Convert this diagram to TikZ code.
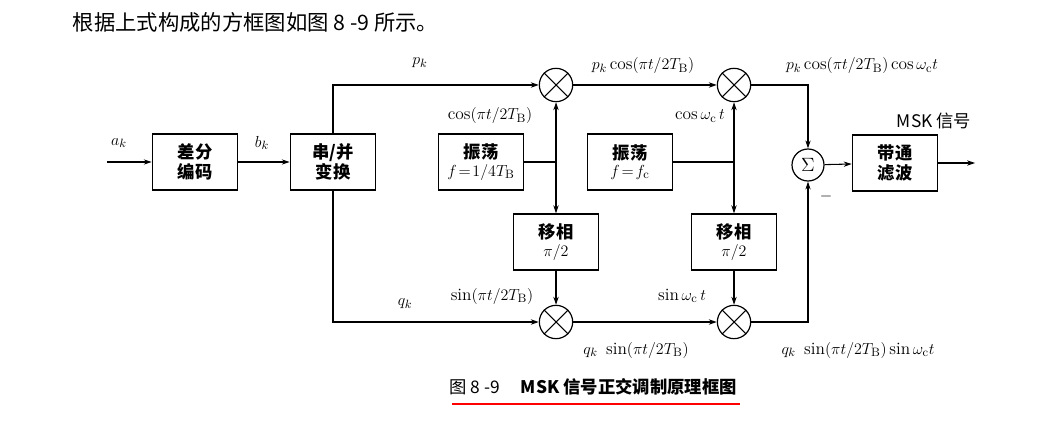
\documentclass[tikz,border=0pt]{standalone}
\usepackage{fontspec}
\newfontfamily\cjk{Noto Sans CJK SC}
\usetikzlibrary{arrows.meta}
\begin{document}
\begin{tikzpicture}[x=0.75pt,y=-0.75pt,
  box/.style={draw,line width=1pt,minimum width=64pt,minimum height=42pt,align=center,font=\cjk\bfseries\fontsize{13}{15}\selectfont,inner sep=1pt},
  mul/.style={draw,circle,line width=0.9pt,minimum size=25pt,inner sep=0pt},
  lab/.style={font=\fontsize{13}{15}\selectfont,inner sep=1pt},
  arr/.style={-{Stealth[length=6pt,width=4pt]},line width=0.8pt},
  ln/.style={line width=0.8pt}]
\useasboundingbox (0,0) rectangle (1062,438);
\node[anchor=west,font=\cjk\fontsize{16}{18}\selectfont] (title) at (68,22) {根据上式构成的方框图如图 8 -9 所示。};
\node[box] (diff) at (195,162) {差分\\编码};
\node[box] (sp) at (333,162) {串/并\\变换};
\node[box] (osc1) at (481,162) {振荡\\[-2pt]{\rmfamily\mdseries\fontsize{13}{15}\selectfont$f\!=\!1/4T_{\rm B}$}};
\node[box] (osc2) at (630,162) {振荡\\[-2pt]{\rmfamily\mdseries\fontsize{13}{15}\selectfont$f\!=\!f_{\rm c}$}};
\node[box] (ph1) at (556,242) {移相\\[-2pt]{\rmfamily\mdseries\fontsize{13}{15}\selectfont$\pi/2$}};
\node[box] (ph2) at (734,242) {移相\\[-2pt]{\rmfamily\mdseries\fontsize{13}{15}\selectfont$\pi/2$}};
\node[box] (bpf) at (895,163) {带通\\滤波};
\node[mul] (m1) at (556,85) {};
\node[mul] (m2) at (734,85) {};
\node[mul] (m3) at (556,322) {};
\node[mul] (m4) at (734,322) {};
\foreach \m in {m1,m2,m3,m4}{
  \draw[ln] (\m.north west)--(\m.south east) (\m.north east)--(\m.south west);}
\node[mul,minimum size=24pt,font=\Large] (sum) at (808,165) {$\Sigma$};
\coordinate (in) at (107,162);
\coordinate (out) at (975,163);
\coordinate (j1) at (556,162);
\coordinate (j2) at (734,162);
\draw[arr] (in) -- (diff);
\draw[arr] (diff) -- (sp);
\draw[arr] (sp.north) |- (m1);
\draw[arr] (sp.south) |- (m3);
\draw[ln] (osc1.east) -- (j1);
\draw[arr] (j1) -- (m1);
\draw[arr] (j1) -- (ph1);
\draw[arr] (ph1) -- (m3);
\draw[ln] (osc2.east) -- (j2);
\draw[arr] (j2) -- (m2);
\draw[arr] (j2) -- (ph2);
\draw[arr] (ph2) -- (m4);
\draw[arr] (m1) -- (m2);
\draw[arr] (m3) -- (m4);
\draw[arr] (m2) -| (sum);
\draw[arr] (m4) -| (sum);
\draw[arr] (sum) -- (bpf);
\draw[arr] (bpf) -- (out);
\node[lab] (la) at (119,143) {$a_k$};
\node[lab] (lb) at (262,143) {$b_k$};
\node[lab] (lp) at (420,63) {$p_k$};
\node[lab] (lq) at (405,304) {$q_k$};
\node[lab] (lc1) at (490,116) {$\cos(\pi t/2T_{\rm B})$};
\node[lab] (ls1) at (492,296) {$\sin(\pi t/2T_{\rm B})$};
\node[lab] (lc2) at (700,116) {$\cos\omega_{\rm c}\,t$};
\node[lab] (ls2) at (682,296) {$\sin\omega_{\rm c}\,t$};
\node[lab] (lpc) at (643,66) {$p_k\cos(\pi t/2T_{\rm B})$};
\node[lab] (lqs) at (636,350) {$q_k\ \sin(\pi t/2T_{\rm B})$};
\node[lab] (lpcc) at (862,66) {$p_k\cos(\pi t/2T_{\rm B})\cos\omega_{\rm c}t$};
\node[lab] (lqss) at (858,350) {$q_k\ \sin(\pi t/2T_{\rm B})\sin\omega_{\rm c}t$};
\node[lab] (minus) at (826,196) {$-$};
\node[lab,font=\cjk\fontsize{13}{15}\selectfont] (lmsk) at (934,121) {MSK 信号};
\node[font=\cjk\fontsize{13}{15}\selectfont] (cap) at (593,387) {图 8 -9 \quad {\bfseries MSK 信号正交调制原理框图}};
\draw[red,line width=1.3pt] (452,404) -- (740,404);
\end{tikzpicture}
\end{document}
